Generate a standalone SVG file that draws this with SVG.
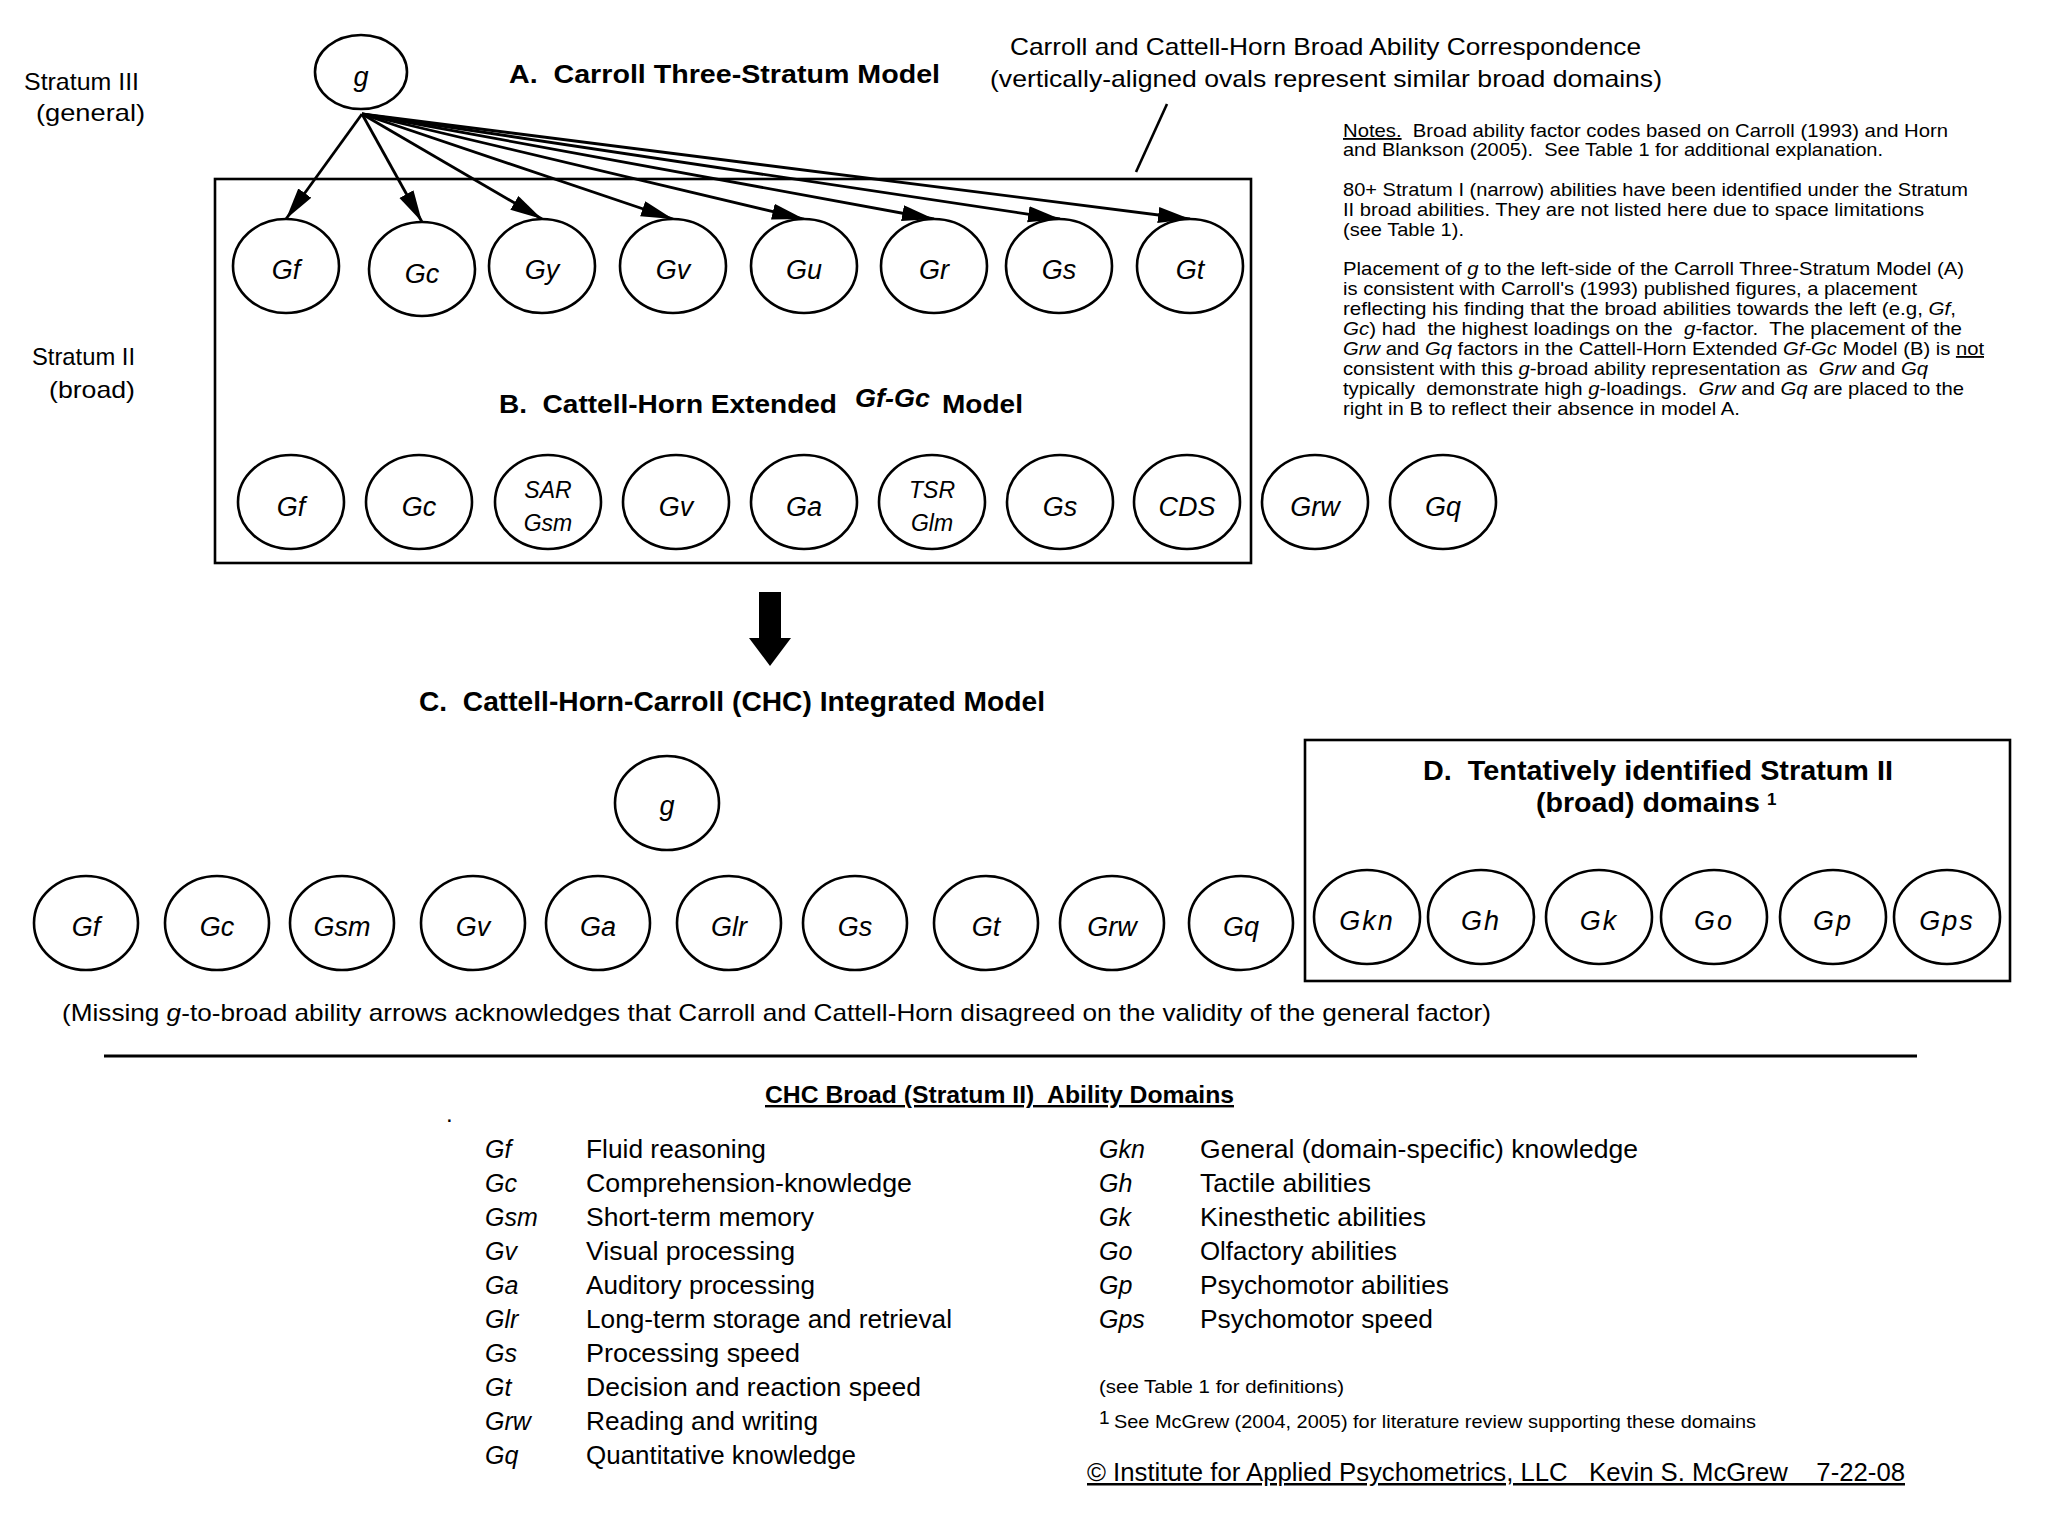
<svg xmlns="http://www.w3.org/2000/svg" width="2048" height="1536" viewBox="0 0 2048 1536">
<style>
text{font-family:"Liberation Sans",Arial,sans-serif;fill:#000}
.node ellipse{fill:#fff;stroke:#000;stroke-width:2.6}
.lbl{font-size:27px;font-style:italic;text-anchor:middle}
.lbl2{font-size:23px;font-style:italic;text-anchor:middle}
.b{font-weight:bold}
.i{font-style:italic}
.u{text-decoration:underline}
.note{font-size:18.5px}
.list{font-size:25px}
.box{fill:none;stroke:#000;stroke-width:2.6}
.conn line{stroke:#000;stroke-width:2.8}
</style>
<defs>
<marker id="ah" markerUnits="userSpaceOnUse" markerWidth="34" markerHeight="18" refX="32" refY="8" orient="auto">
<path d="M0,0 L32,8 L0,16 z" fill="#000"/>
</marker>
</defs>
<rect width="2048" height="1536" fill="#fff"/>

<!-- Side labels -->
<text x="24" y="90" font-size="24" textLength="115" lengthAdjust="spacingAndGlyphs">Stratum III</text>
<text x="36" y="121" font-size="24" textLength="109" lengthAdjust="spacingAndGlyphs">(general)</text>
<text x="32" y="365" font-size="24" textLength="103" lengthAdjust="spacingAndGlyphs">Stratum II</text>
<text x="49" y="398" font-size="24" textLength="86" lengthAdjust="spacingAndGlyphs">(broad)</text>

<!-- Titles -->
<text x="509" y="83" font-size="26" class="b" xml:space="preserve" textLength="431" lengthAdjust="spacingAndGlyphs">A.  Carroll Three-Stratum Model</text>
<text x="1010" y="55" font-size="24" textLength="631" lengthAdjust="spacingAndGlyphs">Carroll and Cattell-Horn Broad Ability Correspondence</text>
<text x="990" y="87" font-size="24" textLength="672" lengthAdjust="spacingAndGlyphs">(vertically-aligned ovals represent similar broad domains)</text>
<line x1="1167" y1="104" x2="1136" y2="172" stroke="#000" stroke-width="2.6"/>

<!-- Box B -->
<rect class="box" x="215" y="179" width="1036" height="384"/>
<text x="499" y="413" font-size="26" class="b" xml:space="preserve" textLength="338" lengthAdjust="spacingAndGlyphs">B.  Cattell-Horn Extended</text>
<text x="855" y="407" font-size="26" class="b i" textLength="75" lengthAdjust="spacingAndGlyphs">Gf-Gc</text>
<text x="942" y="413" font-size="26" class="b" textLength="81" lengthAdjust="spacingAndGlyphs">Model</text>

<!-- Notes -->
<g class="note">
<text x="1343" y="137" xml:space="preserve" textLength="605" lengthAdjust="spacingAndGlyphs"><tspan class="u">Notes.</tspan>  Broad ability factor codes based on Carroll (1993) and Horn</text>
<text x="1343" y="156" xml:space="preserve" textLength="540" lengthAdjust="spacingAndGlyphs">and Blankson (2005).  See Table 1 for additional explanation.</text>
<text x="1343" y="196" textLength="625" lengthAdjust="spacingAndGlyphs">80+ Stratum I (narrow) abilities have been identified under the Stratum</text>
<text x="1343" y="216" textLength="581" lengthAdjust="spacingAndGlyphs">II broad abilities. They are not listed here due to space limitations</text>
<text x="1343" y="236" textLength="121" lengthAdjust="spacingAndGlyphs">(see Table 1).</text>
<text x="1343" y="275" textLength="621" lengthAdjust="spacingAndGlyphs">Placement of <tspan class="i">g</tspan> to the left-side of the Carroll Three-Stratum Model (A)</text>
<text x="1343" y="295" textLength="574" lengthAdjust="spacingAndGlyphs">is consistent with Carroll's (1993) published figures, a placement</text>
<text x="1343" y="315" textLength="613" lengthAdjust="spacingAndGlyphs">reflecting his finding that the broad abilities towards the left (e.g, <tspan class="i">Gf</tspan>,</text>
<text x="1343" y="335" xml:space="preserve" textLength="619" lengthAdjust="spacingAndGlyphs"><tspan class="i">Gc</tspan>) had  the highest loadings on the  <tspan class="i">g</tspan>-factor.  The placement of the</text>
<text x="1343" y="355" textLength="641" lengthAdjust="spacingAndGlyphs"><tspan class="i">Grw</tspan> and <tspan class="i">Gq</tspan> factors in the Cattell-Horn Extended <tspan class="i">Gf-Gc</tspan> Model (B) is <tspan class="u">not</tspan></text>
<text x="1343" y="375" xml:space="preserve" textLength="585" lengthAdjust="spacingAndGlyphs">consistent with this <tspan class="i">g</tspan>-broad ability representation as  <tspan class="i">Grw</tspan> and <tspan class="i">Gq</tspan></text>
<text x="1343" y="395" xml:space="preserve" textLength="621" lengthAdjust="spacingAndGlyphs">typically  demonstrate high <tspan class="i">g</tspan>-loadings.  <tspan class="i">Grw</tspan> and <tspan class="i">Gq</tspan> are placed to the</text>
<text x="1343" y="415" textLength="397" lengthAdjust="spacingAndGlyphs">right in B to reflect their absence in model A.</text>
</g>

<!-- Connectors -->
<g id="connectors" class="conn">
<line x1="362" y1="114" x2="286" y2="219" marker-end="url(#ah)"/>
<line x1="362" y1="114" x2="422" y2="222" marker-end="url(#ah)"/>
<line x1="362" y1="114" x2="542" y2="219" marker-end="url(#ah)"/>
<line x1="362" y1="114" x2="673" y2="219" marker-end="url(#ah)"/>
<line x1="362" y1="114" x2="804" y2="219" marker-end="url(#ah)"/>
<line x1="362" y1="114" x2="934" y2="219" marker-end="url(#ah)"/>
<line x1="362" y1="114" x2="1060" y2="219" marker-end="url(#ah)"/>
<line x1="362" y1="114" x2="1190" y2="219" marker-end="url(#ah)"/>
<polygon points="759,592 781,592 781,638 791,638 770,666 749,638 759,638" fill="#000"/>
</g>

<!-- Model A nodes -->
<g id="A-g" class="node"><ellipse cx="361" cy="72" rx="46" ry="37"/><text class="lbl" x="361" y="86">g</text></g>
<g id="A-Gf" class="node"><ellipse cx="286" cy="266" rx="53" ry="47"/><text class="lbl" x="286" y="279">Gf</text></g>
<g id="A-Gc" class="node"><ellipse cx="422" cy="269" rx="53" ry="47"/><text class="lbl" x="422" y="283">Gc</text></g>
<g id="A-Gy" class="node"><ellipse cx="542" cy="266" rx="53" ry="47"/><text class="lbl" x="542" y="279">Gy</text></g>
<g id="A-Gv" class="node"><ellipse cx="673" cy="266" rx="53" ry="47"/><text class="lbl" x="673" y="279">Gv</text></g>
<g id="A-Gu" class="node"><ellipse cx="804" cy="266" rx="53" ry="47"/><text class="lbl" x="804" y="279">Gu</text></g>
<g id="A-Gr" class="node"><ellipse cx="934" cy="266" rx="53" ry="47"/><text class="lbl" x="934" y="279">Gr</text></g>
<g id="A-Gs" class="node"><ellipse cx="1059" cy="266" rx="53" ry="47"/><text class="lbl" x="1059" y="279">Gs</text></g>
<g id="A-Gt" class="node"><ellipse cx="1190" cy="266" rx="53" ry="47"/><text class="lbl" x="1190" y="279">Gt</text></g>

<!-- Model B nodes -->
<g id="B-Gf" class="node"><ellipse cx="291" cy="502" rx="53" ry="47"/><text class="lbl" x="291" y="516">Gf</text></g>
<g id="B-Gc" class="node"><ellipse cx="419" cy="502" rx="53" ry="47"/><text class="lbl" x="419" y="516">Gc</text></g>
<g id="B-SAR" class="node"><ellipse cx="548" cy="502" rx="53" ry="47"/><text class="lbl2" x="548" y="498">SAR</text><text class="lbl2" x="548" y="531">Gsm</text></g>
<g id="B-Gv" class="node"><ellipse cx="676" cy="502" rx="53" ry="47"/><text class="lbl" x="676" y="516">Gv</text></g>
<g id="B-Ga" class="node"><ellipse cx="804" cy="502" rx="53" ry="47"/><text class="lbl" x="804" y="516">Ga</text></g>
<g id="B-TSR" class="node"><ellipse cx="932" cy="502" rx="53" ry="47"/><text class="lbl2" x="932" y="498">TSR</text><text class="lbl2" x="932" y="531">Glm</text></g>
<g id="B-Gs" class="node"><ellipse cx="1060" cy="502" rx="53" ry="47"/><text class="lbl" x="1060" y="516">Gs</text></g>
<g id="B-CDS" class="node"><ellipse cx="1187" cy="502" rx="53" ry="47"/><text class="lbl" x="1187" y="516">CDS</text></g>
<g id="B-Grw" class="node"><ellipse cx="1315" cy="502" rx="53" ry="47"/><text class="lbl" x="1315" y="516">Grw</text></g>
<g id="B-Gq" class="node"><ellipse cx="1443" cy="502" rx="53" ry="47"/><text class="lbl" x="1443" y="516">Gq</text></g>

<!-- Model C -->
<text x="419" y="711" font-size="27" class="b" xml:space="preserve" textLength="626" lengthAdjust="spacingAndGlyphs">C.  Cattell-Horn-Carroll (CHC) Integrated Model</text>
<g id="C-g" class="node"><ellipse cx="667" cy="803" rx="52" ry="47"/><text class="lbl" x="667" y="815">g</text></g>
<g id="C-Gf" class="node"><ellipse cx="86" cy="923" rx="52" ry="47"/><text class="lbl" x="86" y="936">Gf</text></g>
<g id="C-Gc" class="node"><ellipse cx="217" cy="923" rx="52" ry="47"/><text class="lbl" x="217" y="936">Gc</text></g>
<g id="C-Gsm" class="node"><ellipse cx="342" cy="923" rx="52" ry="47"/><text class="lbl" x="342" y="936">Gsm</text></g>
<g id="C-Gv" class="node"><ellipse cx="473" cy="923" rx="52" ry="47"/><text class="lbl" x="473" y="936">Gv</text></g>
<g id="C-Ga" class="node"><ellipse cx="598" cy="923" rx="52" ry="47"/><text class="lbl" x="598" y="936">Ga</text></g>
<g id="C-Glr" class="node"><ellipse cx="729" cy="923" rx="52" ry="47"/><text class="lbl" x="729" y="936">Glr</text></g>
<g id="C-Gs" class="node"><ellipse cx="855" cy="923" rx="52" ry="47"/><text class="lbl" x="855" y="936">Gs</text></g>
<g id="C-Gt" class="node"><ellipse cx="986" cy="923" rx="52" ry="47"/><text class="lbl" x="986" y="936">Gt</text></g>
<g id="C-Grw" class="node"><ellipse cx="1112" cy="923" rx="52" ry="47"/><text class="lbl" x="1112" y="936">Grw</text></g>
<g id="C-Gq" class="node"><ellipse cx="1241" cy="923" rx="52" ry="47"/><text class="lbl" x="1241" y="936">Gq</text></g>

<!-- Box D -->
<rect class="box" x="1305" y="740" width="705" height="241"/>
<text x="1658" y="780" font-size="27" class="b" text-anchor="middle" xml:space="preserve" textLength="470" lengthAdjust="spacingAndGlyphs">D.  Tentatively identified Stratum II</text>
<text x="1536" y="812" font-size="27" class="b" textLength="224" lengthAdjust="spacingAndGlyphs">(broad) domains</text>
<text x="1767" y="805" font-size="17" class="b">1</text>
<g id="D-Gkn" class="node"><ellipse cx="1367" cy="917" rx="53" ry="47"/><text class="lbl" x="1367" y="930" letter-spacing="2">Gkn</text></g>
<g id="D-Gh" class="node"><ellipse cx="1481" cy="917" rx="53" ry="47"/><text class="lbl" x="1481" y="930" letter-spacing="2">Gh</text></g>
<g id="D-Gk" class="node"><ellipse cx="1599" cy="917" rx="53" ry="47"/><text class="lbl" x="1599" y="930" letter-spacing="2">Gk</text></g>
<g id="D-Go" class="node"><ellipse cx="1714" cy="917" rx="53" ry="47"/><text class="lbl" x="1714" y="930" letter-spacing="2">Go</text></g>
<g id="D-Gp" class="node"><ellipse cx="1833" cy="917" rx="53" ry="47"/><text class="lbl" x="1833" y="930" letter-spacing="2">Gp</text></g>
<g id="D-Gps" class="node"><ellipse cx="1947" cy="917" rx="53" ry="47"/><text class="lbl" x="1947" y="930" letter-spacing="2">Gps</text></g>

<text x="62" y="1021" font-size="24" textLength="1429" lengthAdjust="spacingAndGlyphs">(Missing <tspan class="i">g</tspan>-to-broad ability arrows acknowledges that Carroll and Cattell-Horn disagreed on the validity of the general factor)</text>

<line x1="104" y1="1056" x2="1917" y2="1056" stroke="#000" stroke-width="3"/>

<!-- Legend -->
<text x="765" y="1103" font-size="24" class="b u" xml:space="preserve" textLength="469" lengthAdjust="spacingAndGlyphs">CHC Broad (Stratum II)  Ability Domains</text>
<text x="446" y="1122" font-size="24">.</text>

<g class="list">
<text x="485" y="1158" class="i">Gf</text><text x="586" y="1158" textLength="180" lengthAdjust="spacingAndGlyphs">Fluid reasoning</text>
<text x="485" y="1192" class="i">Gc</text><text x="586" y="1192" textLength="326" lengthAdjust="spacingAndGlyphs">Comprehension-knowledge</text>
<text x="485" y="1226" class="i">Gsm</text><text x="586" y="1226" textLength="228" lengthAdjust="spacingAndGlyphs">Short-term memory</text>
<text x="485" y="1260" class="i">Gv</text><text x="586" y="1260" textLength="209" lengthAdjust="spacingAndGlyphs">Visual processing</text>
<text x="485" y="1294" class="i">Ga</text><text x="586" y="1294" textLength="229" lengthAdjust="spacingAndGlyphs">Auditory processing</text>
<text x="485" y="1328" class="i">Glr</text><text x="586" y="1328" textLength="366" lengthAdjust="spacingAndGlyphs">Long-term storage and retrieval</text>
<text x="485" y="1362" class="i">Gs</text><text x="586" y="1362" textLength="214" lengthAdjust="spacingAndGlyphs">Processing speed</text>
<text x="485" y="1396" class="i">Gt</text><text x="586" y="1396" textLength="335" lengthAdjust="spacingAndGlyphs">Decision and reaction speed</text>
<text x="485" y="1430" class="i">Grw</text><text x="586" y="1430" textLength="232" lengthAdjust="spacingAndGlyphs">Reading and writing</text>
<text x="485" y="1464" class="i">Gq</text><text x="586" y="1464" textLength="270" lengthAdjust="spacingAndGlyphs">Quantitative knowledge</text>

<text x="1099" y="1158" class="i">Gkn</text><text x="1200" y="1158" textLength="438" lengthAdjust="spacingAndGlyphs">General (domain-specific) knowledge</text>
<text x="1099" y="1192" class="i">Gh</text><text x="1200" y="1192" textLength="171" lengthAdjust="spacingAndGlyphs">Tactile abilities</text>
<text x="1099" y="1226" class="i">Gk</text><text x="1200" y="1226" textLength="226" lengthAdjust="spacingAndGlyphs">Kinesthetic abilities</text>
<text x="1099" y="1260" class="i">Go</text><text x="1200" y="1260" textLength="197" lengthAdjust="spacingAndGlyphs">Olfactory abilities</text>
<text x="1099" y="1294" class="i">Gp</text><text x="1200" y="1294" textLength="249" lengthAdjust="spacingAndGlyphs">Psychomotor abilities</text>
<text x="1099" y="1328" class="i">Gps</text><text x="1200" y="1328" textLength="233" lengthAdjust="spacingAndGlyphs">Psychomotor speed</text>
</g>

<text x="1099" y="1393" font-size="19" textLength="245" lengthAdjust="spacingAndGlyphs">(see Table 1 for definitions)</text>
<text x="1099" y="1424" font-size="19">1</text>
<text x="1114" y="1428" font-size="19" textLength="642" lengthAdjust="spacingAndGlyphs">See McGrew (2004, 2005) for literature review supporting these domains</text>
<text x="1087" y="1481" font-size="25" class="u" xml:space="preserve" textLength="818" lengthAdjust="spacingAndGlyphs">© Institute for Applied Psychometrics, LLC   Kevin S. McGrew    7-22-08</text>
</svg>
